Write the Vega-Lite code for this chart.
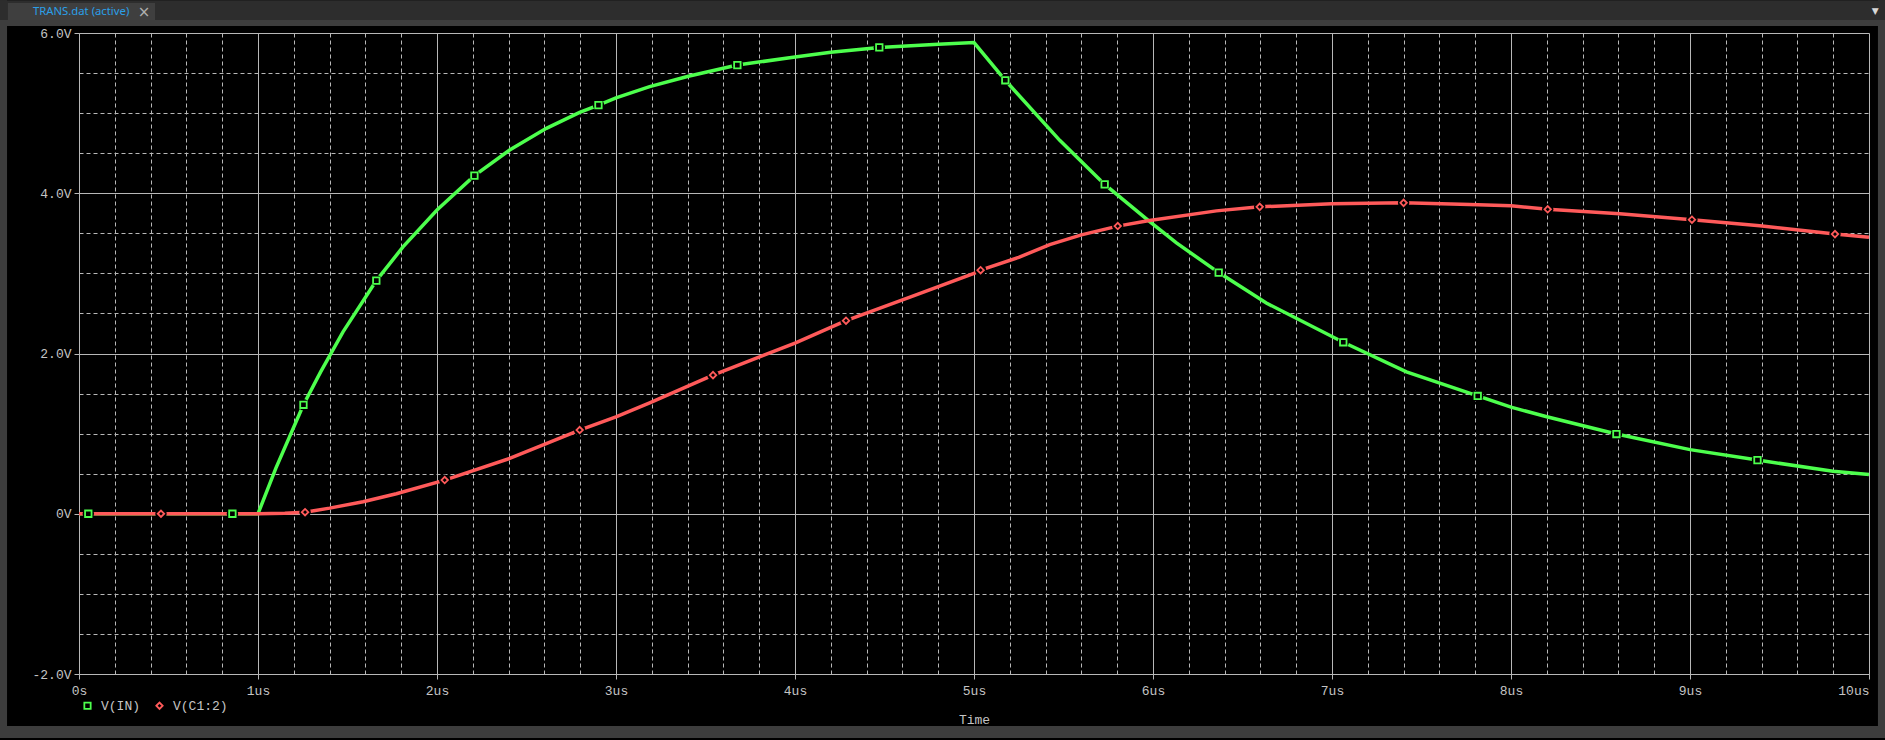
{
  "$schema": "https://vega.github.io/schema/vega-lite/v6.json",
  "autosize": {"type": "none"},
  "width": 1790,
  "height": 641,
  "padding": {"left": 79, "top": 33, "right": 16, "bottom": 66},
  "background": "#000000",
  "config": {
    "view": {"stroke": null},
    "legend": {"orient": "none", "legendX": 2, "legendY": 666, "direction": "horizontal", "title": null, "labelFont": "Liberation Mono", "labelFontSize": 13, "labelColor": "#c4c4c4", "symbolSize": 40, "symbolStrokeWidth": 1.8, "symbolFillColor": "#000000", "labelOffset": 7, "columnPadding": 11, "padding": 0}
  },
  "data": {"values": [
    {"trace": "V(IN)", "t": 0, "v": 0},
    {"trace": "V(IN)", "t": 0.052, "v": 0, "m": 1},
    {"trace": "V(IN)", "t": 0.857, "v": 0, "m": 1},
    {"trace": "V(IN)", "t": 1.0, "v": 0},
    {"trace": "V(IN)", "t": 1.1, "v": 0.57},
    {"trace": "V(IN)", "t": 1.254, "v": 1.36, "m": 1},
    {"trace": "V(IN)", "t": 1.35, "v": 1.77},
    {"trace": "V(IN)", "t": 1.475, "v": 2.27},
    {"trace": "V(IN)", "t": 1.661, "v": 2.91, "m": 1},
    {"trace": "V(IN)", "t": 1.81, "v": 3.33},
    {"trace": "V(IN)", "t": 2.0, "v": 3.79},
    {"trace": "V(IN)", "t": 2.209, "v": 4.22, "m": 1},
    {"trace": "V(IN)", "t": 2.406, "v": 4.54},
    {"trace": "V(IN)", "t": 2.611, "v": 4.81},
    {"trace": "V(IN)", "t": 2.797, "v": 5.01},
    {"trace": "V(IN)", "t": 2.902, "v": 5.10, "m": 1},
    {"trace": "V(IN)", "t": 3.0, "v": 5.19},
    {"trace": "V(IN)", "t": 3.188, "v": 5.33},
    {"trace": "V(IN)", "t": 3.404, "v": 5.46},
    {"trace": "V(IN)", "t": 3.678, "v": 5.60, "m": 1},
    {"trace": "V(IN)", "t": 4.0, "v": 5.70},
    {"trace": "V(IN)", "t": 4.2, "v": 5.76},
    {"trace": "V(IN)", "t": 4.471, "v": 5.82, "m": 1},
    {"trace": "V(IN)", "t": 4.8, "v": 5.86},
    {"trace": "V(IN)", "t": 5.0, "v": 5.88},
    {"trace": "V(IN)", "t": 5.175, "v": 5.41, "m": 1},
    {"trace": "V(IN)", "t": 5.479, "v": 4.66},
    {"trace": "V(IN)", "t": 5.73, "v": 4.11, "m": 1},
    {"trace": "V(IN)", "t": 5.98, "v": 3.65},
    {"trace": "V(IN)", "t": 6.131, "v": 3.38},
    {"trace": "V(IN)", "t": 6.367, "v": 3.01, "m": 1},
    {"trace": "V(IN)", "t": 6.633, "v": 2.63},
    {"trace": "V(IN)", "t": 7.063, "v": 2.14, "m": 1},
    {"trace": "V(IN)", "t": 7.416, "v": 1.77},
    {"trace": "V(IN)", "t": 7.814, "v": 1.47, "m": 1},
    {"trace": "V(IN)", "t": 8.0, "v": 1.33},
    {"trace": "V(IN)", "t": 8.2, "v": 1.21},
    {"trace": "V(IN)", "t": 8.589, "v": 0.995, "m": 1},
    {"trace": "V(IN)", "t": 9.0, "v": 0.80},
    {"trace": "V(IN)", "t": 9.377, "v": 0.67, "m": 1},
    {"trace": "V(IN)", "t": 9.799, "v": 0.53},
    {"trace": "V(IN)", "t": 10.0, "v": 0.49},
    {"trace": "V(C1:2)", "t": 0, "v": 0},
    {"trace": "V(C1:2)", "t": 0.458, "v": 0, "m": 1},
    {"trace": "V(C1:2)", "t": 1.0, "v": 0},
    {"trace": "V(C1:2)", "t": 1.15, "v": 0.005},
    {"trace": "V(C1:2)", "t": 1.263, "v": 0.02, "m": 1},
    {"trace": "V(C1:2)", "t": 1.4, "v": 0.07},
    {"trace": "V(C1:2)", "t": 1.587, "v": 0.15},
    {"trace": "V(C1:2)", "t": 1.773, "v": 0.25},
    {"trace": "V(C1:2)", "t": 2.043, "v": 0.42, "m": 1},
    {"trace": "V(C1:2)", "t": 2.406, "v": 0.69},
    {"trace": "V(C1:2)", "t": 2.797, "v": 1.045, "m": 1},
    {"trace": "V(C1:2)", "t": 3.0, "v": 1.21},
    {"trace": "V(C1:2)", "t": 3.188, "v": 1.385},
    {"trace": "V(C1:2)", "t": 3.542, "v": 1.73, "m": 1},
    {"trace": "V(C1:2)", "t": 4.0, "v": 2.13},
    {"trace": "V(C1:2)", "t": 4.285, "v": 2.41, "m": 1},
    {"trace": "V(C1:2)", "t": 4.65, "v": 2.71},
    {"trace": "V(C1:2)", "t": 5.0, "v": 3.0},
    {"trace": "V(C1:2)", "t": 5.037, "v": 3.04, "m": 1},
    {"trace": "V(C1:2)", "t": 5.25, "v": 3.2},
    {"trace": "V(C1:2)", "t": 5.423, "v": 3.36},
    {"trace": "V(C1:2)", "t": 5.6, "v": 3.48},
    {"trace": "V(C1:2)", "t": 5.803, "v": 3.59, "m": 1},
    {"trace": "V(C1:2)", "t": 5.98, "v": 3.66},
    {"trace": "V(C1:2)", "t": 6.354, "v": 3.78},
    {"trace": "V(C1:2)", "t": 6.596, "v": 3.83, "m": 1},
    {"trace": "V(C1:2)", "t": 7.0, "v": 3.87},
    {"trace": "V(C1:2)", "t": 7.4, "v": 3.88, "m": 1},
    {"trace": "V(C1:2)", "t": 7.77, "v": 3.86},
    {"trace": "V(C1:2)", "t": 8.0, "v": 3.845},
    {"trace": "V(C1:2)", "t": 8.205, "v": 3.80, "m": 1},
    {"trace": "V(C1:2)", "t": 8.607, "v": 3.745},
    {"trace": "V(C1:2)", "t": 9.011, "v": 3.67, "m": 1},
    {"trace": "V(C1:2)", "t": 9.39, "v": 3.595},
    {"trace": "V(C1:2)", "t": 9.81, "v": 3.49, "m": 1},
    {"trace": "V(C1:2)", "t": 10.0, "v": 3.45}
  ]},
  "layer": [
    {
      "mark": {"type": "line", "strokeWidth": 3.5, "strokeCap": "butt"},
      "encoding": {
        "x": {"field": "t", "type": "quantitative", "title": "Time",
          "scale": {"domain": [0, 10], "nice": false, "zero": false},
          "axis": {
            "values": [0,0.2,0.4,0.6,0.8,1,1.2,1.4,1.6,1.8,2,2.2,2.4,2.6,2.8,3,3.2,3.4,3.6,3.8,4,4.2,4.4,4.6,4.8,5,5.2,5.4,5.6,5.8,6,6.2,6.4,6.6,6.8,7,7.2,7.4,7.6,7.8,8,8.2,8.4,8.6,8.8,9,9.2,9.4,9.6,9.8,10],
            "tickCount": 200,
            "grid": true, "gridColor": "#b8b8b8", "gridWidth": 1,
            "gridDash": {"condition": {"test": "abs(datum.value - round(datum.value)) < 0.01", "value": []}, "value": [4, 3]},
            "domainColor": "#b8b8b8", "tickColor": "#b8b8b8", "tickSize": 5,
            "tickOpacity": {"condition": {"test": "abs(datum.value - round(datum.value)) < 0.01", "value": 1}, "value": 0},
            "labelExpr": "datum.value == 0 ? '0s' : (abs(datum.value - round(datum.value)) < 0.01 ? round(datum.value) + 'us' : '')",
            "labelFont": "Liberation Mono", "labelFontSize": 13, "labelColor": "#c4c4c4",
            "labelFlush": false, "labelOverlap": false, "labelPadding": 5,
            "labelAlign": {"condition": {"test": "datum.value > 9.99", "value": "right"}, "value": "center"},
            "titleFont": "Liberation Mono", "titleFontSize": 13, "titleFontWeight": "normal", "titleColor": "#c4c4c4", "titlePadding": 16
          }
        },
        "y": {"field": "v", "type": "quantitative", "title": null,
          "scale": {"domain": [-2, 6], "nice": false, "zero": false},
          "axis": {
            "values": [-2,-1.5,-1,-0.5,0,0.5,1,1.5,2,2.5,3,3.5,4,4.5,5,5.5,6],
            "tickCount": 200,
            "grid": true, "gridColor": "#b8b8b8", "gridWidth": 1,
            "gridDash": {"condition": {"test": "abs(datum.value / 2 - round(datum.value / 2)) < 0.01", "value": []}, "value": [4, 3]},
            "domainColor": "#b8b8b8", "tickColor": "#b8b8b8", "tickSize": 5,
            "tickOpacity": {"condition": {"test": "abs(datum.value / 2 - round(datum.value / 2)) < 0.01", "value": 1}, "value": 0},
            "labelExpr": "abs(datum.value / 2 - round(datum.value / 2)) < 0.01 ? (datum.value == 0 ? '0V' : (datum.value < 0 ? '-' : '') + format(abs(datum.value), '.1f') + 'V') : ''",
            "labelFont": "Liberation Mono", "labelFontSize": 13, "labelColor": "#c4c4c4",
            "labelOverlap": false, "labelPadding": 3
          }
        },
        "stroke": {"field": "trace", "type": "nominal",
          "scale": {"domain": ["V(IN)", "V(C1:2)"], "range": ["#4dff4d", "#ff5a5a"]}}
      }
    },
    {
      "transform": [{"filter": "datum.m == 1"}],
      "mark": {"type": "point", "shape": "circle", "filled": true, "color": "#000000", "size": 130, "opacity": 1},
      "encoding": {
        "x": {"field": "t", "type": "quantitative", "title": "Time", "scale": {"domain": [0, 10], "nice": false, "zero": false}},
        "y": {"field": "v", "type": "quantitative", "title": null, "scale": {"domain": [-2, 6], "nice": false, "zero": false}}
      }
    },
    {
      "transform": [{"filter": "datum.m == 1"}],
      "mark": {"type": "point", "filled": true, "fill": "#000000", "strokeWidth": 1.8, "size": 42, "opacity": 1},
      "encoding": {
        "x": {"field": "t", "type": "quantitative", "title": "Time", "scale": {"domain": [0, 10], "nice": false, "zero": false}},
        "y": {"field": "v", "type": "quantitative", "title": null, "scale": {"domain": [-2, 6], "nice": false, "zero": false}},
        "stroke": {"field": "trace", "type": "nominal",
          "scale": {"domain": ["V(IN)", "V(C1:2)"], "range": ["#4dff4d", "#ff5a5a"]}},
        "shape": {"field": "trace", "type": "nominal",
          "scale": {"domain": ["V(IN)", "V(C1:2)"], "range": ["square", "diamond"]}}
      }
    },
    {
      "data": {"values": [{}]},
      "mark": {"type": "rect", "color": "#3d3d3d"},
      "encoding": {
        "x": {"datum": -0.45, "title": "Time", "scale": {"domain": [0, 10], "nice": false, "zero": false}},
        "x2": {"datum": -0.402},
        "y": {"datum": -2.8, "title": null, "scale": {"domain": [-2, 6], "nice": false, "zero": false}},
        "y2": {"datum": 6.41}
      }
    },
    {
      "data": {"values": [{}]},
      "mark": {"type": "rect", "color": "#3d3d3d"},
      "encoding": {
        "x": {"datum": 10.05, "title": "Time", "scale": {"domain": [0, 10], "nice": false, "zero": false}},
        "x2": {"datum": 10.1},
        "y": {"datum": -2.8, "title": null, "scale": {"domain": [-2, 6], "nice": false, "zero": false}},
        "y2": {"datum": 6.41}
      }
    },
    {
      "data": {"values": [{}]},
      "mark": {"type": "rect", "color": "#3d3d3d"},
      "encoding": {
        "x": {"datum": -0.45, "title": "Time", "scale": {"domain": [0, 10], "nice": false, "zero": false}},
        "x2": {"datum": 10.1},
        "y": {"datum": 6.087, "title": null, "scale": {"domain": [-2, 6], "nice": false, "zero": false}},
        "y2": {"datum": 6.162}
      }
    },
    {
      "data": {"values": [{}]},
      "mark": {"type": "rect", "color": "#3d3d3d"},
      "encoding": {
        "x": {"datum": -0.45, "title": "Time", "scale": {"domain": [0, 10], "nice": false, "zero": false}},
        "x2": {"datum": 10.1},
        "y": {"datum": -2.649, "title": null, "scale": {"domain": [-2, 6], "nice": false, "zero": false}},
        "y2": {"datum": -2.8}
      }
    },
    {
      "data": {"values": [{}]},
      "mark": {"type": "rect", "color": "#2d2d2d"},
      "encoding": {
        "x": {"datum": -0.45, "title": "Time", "scale": {"domain": [0, 10], "nice": false, "zero": false}},
        "x2": {"datum": 10.1},
        "y": {"datum": 6.162, "title": null, "scale": {"domain": [-2, 6], "nice": false, "zero": false}},
        "y2": {"datum": 6.41}
      }
    },
    {
      "data": {"values": [{}]},
      "mark": {"type": "rect", "color": "#3f3f3f"},
      "encoding": {
        "x": {"datum": -0.397, "title": "Time", "scale": {"domain": [0, 10], "nice": false, "zero": false}},
        "x2": {"datum": 0.425},
        "y": {"datum": 6.162, "title": null, "scale": {"domain": [-2, 6], "nice": false, "zero": false}},
        "y2": {"datum": 6.374}
      }
    },
    {
      "data": {"values": [{"label": "TRANS.dat (active)"}]},
      "mark": {"type": "text", "color": "#2b9fe8", "fontSize": 11.3, "font": "Noto Sans", "baseline": "alphabetic", "align": "left"},
      "encoding": {
        "x": {"datum": -0.257, "title": "Time", "scale": {"domain": [0, 10], "nice": false, "zero": false}},
        "y": {"datum": 6.2247, "title": null, "scale": {"domain": [-2, 6], "nice": false, "zero": false}},
        "text": {"field": "label"}
      }
    },
    {
      "data": {"values": [{"label": "×"}]},
      "mark": {"type": "text", "color": "#b0b0b0", "fontSize": 15, "font": "DejaVu Sans", "baseline": "middle", "align": "center"},
      "encoding": {
        "x": {"datum": 0.363, "title": "Time", "scale": {"domain": [0, 10], "nice": false, "zero": false}},
        "y": {"datum": 6.262, "title": null, "scale": {"domain": [-2, 6], "nice": false, "zero": false}},
        "text": {"field": "label"}
      }
    },
    {
      "data": {"values": [{"label": "▼"}]},
      "mark": {"type": "text", "color": "#d8d8d8", "fontSize": 9, "font": "DejaVu Sans", "baseline": "middle", "align": "center"},
      "encoding": {
        "x": {"datum": 10.034, "title": "Time", "scale": {"domain": [0, 10], "nice": false, "zero": false}},
        "y": {"datum": 6.275, "title": null, "scale": {"domain": [-2, 6], "nice": false, "zero": false}},
        "text": {"field": "label"}
      }
    }
  ]
}
